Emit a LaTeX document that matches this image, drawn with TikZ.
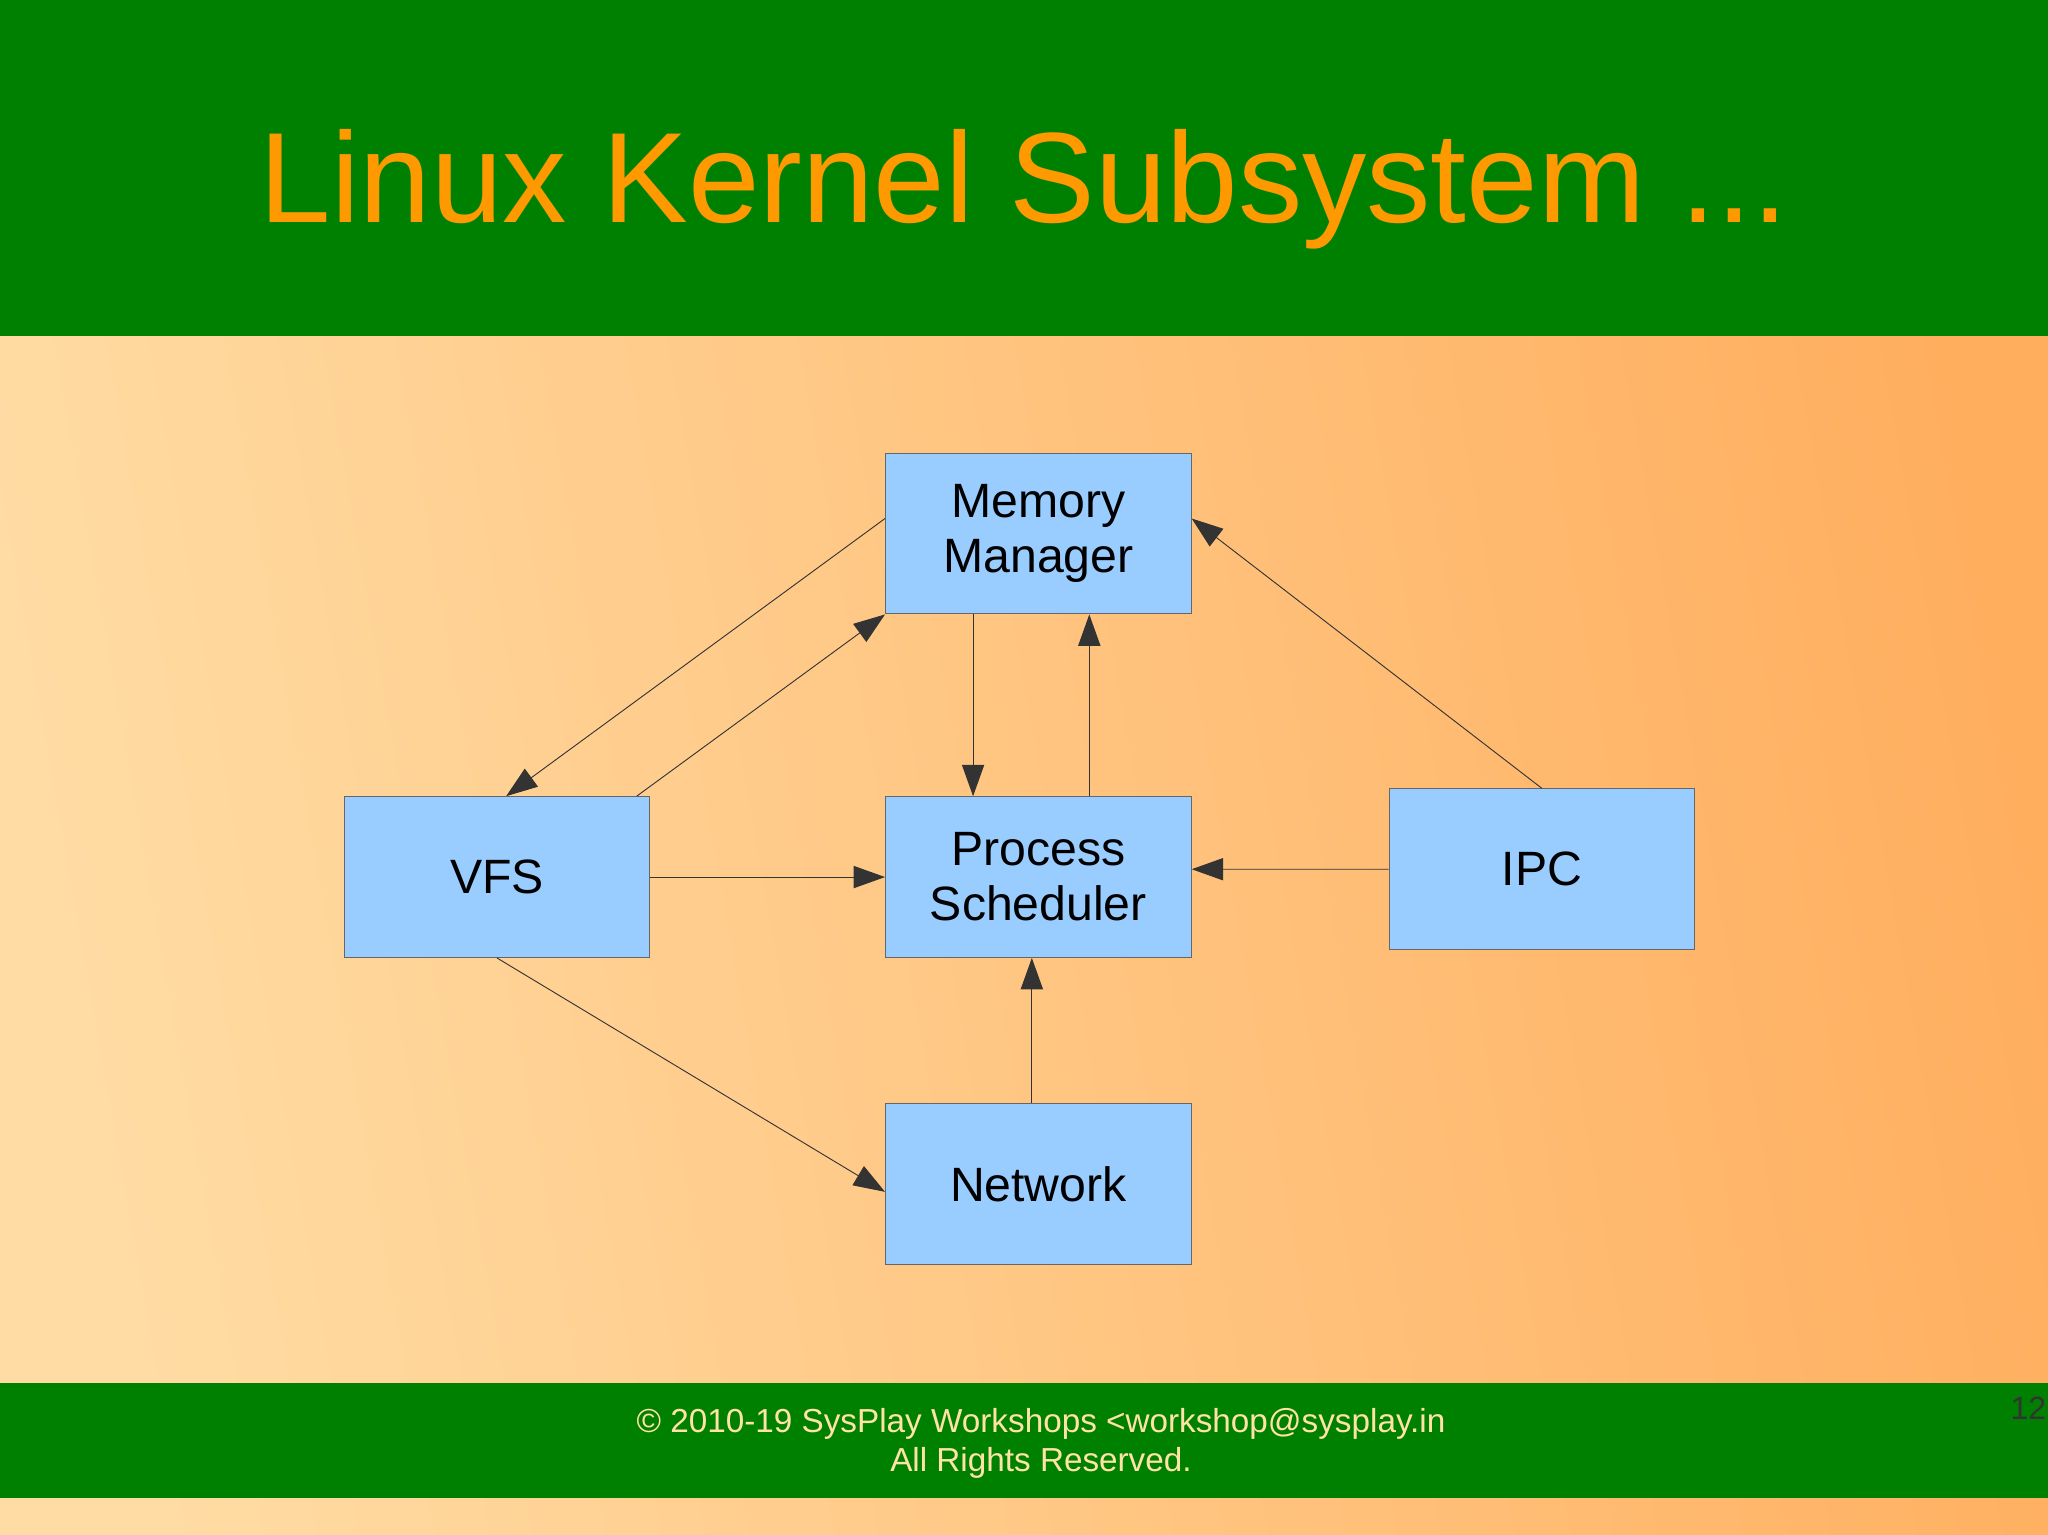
\documentclass[tikz,border=0pt]{standalone}
\usepackage{fontspec}
\setmainfont{Liberation Sans}
\usetikzlibrary{arrows.meta}
\definecolor{bandgreen}{HTML}{008000}
\definecolor{titleor}{HTML}{FF9900}
\definecolor{boxblue}{HTML}{99CCFF}
\definecolor{peachA}{HTML}{FFDCA4}
\definecolor{peachB}{HTML}{FFAE5E}
\definecolor{foot}{HTML}{FFE3A6}
\begin{document}
\begin{tikzpicture}[x=0.02cm,y=-0.02cm,
  box/.style={draw=gray!80!black,line width=0.5pt,fill=boxblue,minimum width=4.68cm,minimum height=2.46cm,align=center,font=\fontsize{21}{24}\selectfont,inner sep=0pt},
  conn/.style={draw=black!80,line width=0.4pt,-{Triangle[length=0.48cm,width=0.34cm]}}]
\useasboundingbox (0,0) rectangle (1568,1175);
\shade[left color=peachA,right color=peachB,shading angle=100] (0,0) rectangle (1568,1175);
\fill[bandgreen] (0,0) rectangle (1568,257);
\fill[bandgreen] (0,1059) rectangle (1568,1147);
\node[text=titleor,font=\fontsize{56}{60}\selectfont] (title) at (784,145) {Linux Kernel Subsystem ...};
\node[box] (mm) at (795,408.5) {Memory\\Manager};
\node[box] (vfs) at (380.5,671.5) {VFS};
\node[box] (ps) at (795,671.5) {Process\\Scheduler};
\node[box] (ipc) at (1180.5,665.5) {IPC};
\node[box] (net) at (795,906.5) {Network};
\draw[conn] ([yshift=0.23cm]mm.west) -- ([xshift=0.14cm]vfs.north);
\draw[conn] ([xshift=2.14cm]vfs.north) -- (mm.south west);
\draw[conn] ([xshift=-1.0cm]mm.south) -- ([xshift=-1.0cm]ps.north);
\draw[conn] ([xshift=0.78cm]ps.north) -- ([xshift=0.78cm]mm.south);
\draw[conn] (ipc.north) -- ([yshift=0.23cm]mm.east);
\draw[conn] (vfs.east) -- (ps.west);
\draw[conn] (ipc.west) -- ([yshift=0.12cm]ps.east);
\draw[conn] ([xshift=-0.1cm]net.north) -- ([xshift=-0.1cm]ps.south);
\draw[conn] (vfs.south) -- ([yshift=-0.12cm]net.west);
\node[text=foot,font=\fontsize{14.5}{17}\selectfont,align=center] (ft) at (797,1105) {© 2010-19 SysPlay Workshops <workshop@sysplay.in\\All Rights Reserved.};
\node[text=black!80,font=\fontsize{14}{16}\selectfont] (pg) at (1553,1078) {12};
\end{tikzpicture}
\end{document}
